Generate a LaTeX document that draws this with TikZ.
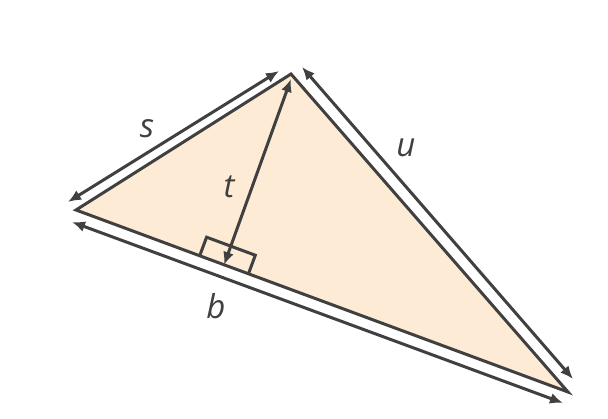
\documentclass[tikz,border=0pt]{standalone}
\usepackage{fontspec}
\setmainfont{Open Sans}
\usetikzlibrary{arrows.meta,calc}
\definecolor{ink}{HTML}{404040}
\definecolor{tri}{HTML}{FDEBD6}
\begin{document}
\begin{tikzpicture}[x=1pt,y=-1pt,
  edge/.style={draw=ink,line width=3pt,line join=miter},
  dim/.style={draw=ink,line width=3pt,{Latex[length=13pt,width=11pt]}-{Latex[length=13pt,width=11pt]}},
  lbl/.style={text=ink,font=\fontsize{33}{33}\selectfont\itshape,inner sep=0pt}]
\useasboundingbox (0,0) rectangle (608,419);
\coordinate (A) at (76,210);
\coordinate (B) at (291,74);
\coordinate (C) at (568,392);
\coordinate (M) at (224,265);
% triangle
\path[fill=tri] (A) -- (B) -- (C) -- cycle;
% right angle box
\coordinate (P1) at ($(M)!26pt!(A)$);
\coordinate (P2) at ($(M)!26pt!(C)$);
\coordinate (P3) at ($(P2)!20pt!-90:(M)$);
\coordinate (P4) at ($(P1)!20pt!90:(M)$);
\draw[edge] (P1) -- (P4) -- (P3) -- (P2);
\draw[edge] (A) -- (B) -- (C) -- cycle;
% dimension arrows
\coordinate (s1) at (68,202);
\coordinate (s2) at (279,71);
\coordinate (u1) at (302,67);
\coordinate (u2) at (573,379);
\coordinate (b1) at (72,222);
\coordinate (b2) at (563,403);
\coordinate (t1) at (291,79);
\coordinate (t2) at (M);
\draw[dim] (s1) -- (s2);
\draw[dim] (u1) -- (u2);
\draw[dim] (b1) -- (b2);
\draw[dim] (t1) -- (t2);
% labels
\node[lbl] (ls) at (147,129) {s};
\node[lbl] (lu) at (406,148) {u};
\node[lbl] (lt) at (229,187) {t};
\node[lbl] (lb) at (216,306) {b};
\end{tikzpicture}
\end{document}
